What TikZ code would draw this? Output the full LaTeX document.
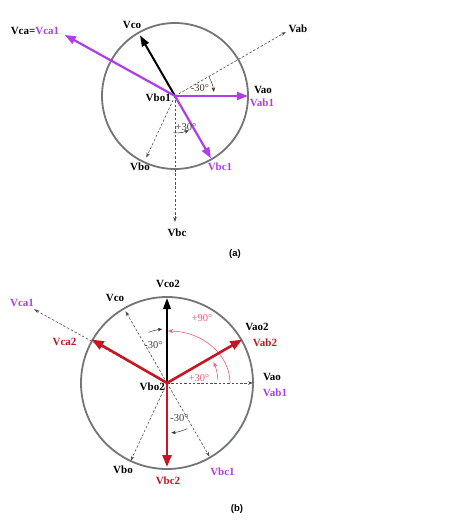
\documentclass[tikz,border=0pt]{standalone}
\usepackage{fontspec}
\setmainfont{Liberation Serif}
\newfontfamily\labsans{Liberation Sans}
\usetikzlibrary{arrows.meta}
\definecolor{vmag}{RGB}{176,60,236}
\definecolor{vred}{RGB}{200,20,35}
\definecolor{vpink}{RGB}{240,90,120}
\definecolor{vgray}{RGB}{115,118,118}
\definecolor{dgray}{RGB}{80,80,80}
\begin{document}
\begin{tikzpicture}[x=1pt,y=1pt,
  lab/.style={font=\bfseries\fontsize{11}{13}\selectfont, inner sep=0pt},
  ang/.style={font=\fontsize{10.5}{12}\selectfont, text=black!75, inner sep=0pt},
  pang/.style={font=\fontsize{10.5}{12}\selectfont, text=vpink, inner sep=0pt},
  circ/.style={draw=vgray, line width=1.8pt},
  dashvec/.style={draw=dgray, line width=0.6pt, dash pattern=on 2.5pt off 1.8pt, -{Stealth[length=5pt,width=3.5pt]}},
  vecmag/.style={draw=vmag, line width=2.2pt, -{Triangle[length=11pt,width=8pt]}},
  vecblk/.style={draw=black, line width=2pt, -{Triangle[length=11pt,width=7.5pt]}},
  vecred/.style={draw=vred, line width=2.6pt, -{Triangle[length=12pt,width=9pt]}},
  angarc/.style={draw=black!80, line width=0.5pt, -{Stealth[length=4.5pt,width=3.5pt]}},
  pinkarc/.style={draw=vpink, line width=0.6pt, -{Stealth[length=5pt,width=4pt]}},
  captext/.style={font=\labsans\bfseries\fontsize{9.5}{11}\selectfont, inner sep=0pt}
]
\fill[white] (0,0) rectangle (474,-520);
\useasboundingbox (0,0) rectangle (474,-520);

% ---------------- (a) ----------------
\begin{scope}[shift={(175,-96)}]
  \coordinate (O1) at (0,0);
  \coordinate (A-Vab) at (30:128);
  \coordinate (A-Vbc) at (-90:126);
  \coordinate (A-Vbo) at (245:68);
  \coordinate (A-Vco) at (120:70);
  \coordinate (A-Vca1) at (151:126);
  \coordinate (A-Vab1) at (0:73);
  \coordinate (A-Vbc1) at (-60:72);
  \draw[dashvec] (O1) -- (A-Vab);
  \draw[dashvec] (O1) -- (A-Vbc);
  \draw[dashvec] (O1) -- (A-Vbo);
  \draw[circ] (O1) circle (73);
  \draw[vecblk] (O1) -- (A-Vco);
  \draw[vecmag] (O1) -- (A-Vca1);
  \draw[vecmag] (O1) -- (A-Vab1);
  \draw[vecmag] (O1) -- (A-Vbc1);
  \draw[angarc] (29:39) arc[start angle=29, end angle=6, radius=39];
  \draw[angarc] (-93:37) arc[start angle=-93, end angle=-68, radius=37];
  \node[lab] (a-vca) at (-140,65) {Vca=\textcolor{vmag}{Vca1}};
  \node[lab] (a-vco) at (-43,71) {Vco};
  \node[lab] (a-vab) at (123,67) {Vab};
  \node[lab] (a-vao) at (88,6) {Vao};
  \node[lab,text=vmag] (a-vab1) at (87,-7) {Vab1};
  \node[lab,anchor=east] (a-vbo1) at (-4,-2) {Vbo1};
  \node[lab] (a-vbo) at (-35,-71) {Vbo};
  \node[lab,text=vmag] (a-vbc1) at (45,-71) {Vbc1};
  \node[lab] (a-vbc) at (2,-137) {Vbc};
  \node[ang] (a-m30) at (25,8) {-30°};
  \node[ang] (a-p30) at (11,-31) {+30°};
\end{scope}
\node[captext] (capa) at (235,-254) {(a)};

% ---------------- (b) ----------------
\begin{scope}[shift={(167,-383)}]
  \coordinate (O2) at (0,0);
  \coordinate (B-Vao) at (0:86);
  \coordinate (B-Vco) at (120:83);
  \coordinate (B-Vca1) at (151:152);
  \coordinate (B-Vbo) at (245:86);
  \coordinate (B-Vbc1) at (-60:85);
  \coordinate (B-Vco2) at (90:85);
  \coordinate (B-Vab2) at (30:87);
  \coordinate (B-Vca2) at (150:87);
  \coordinate (B-Vbc2) at (-90:84);
  \draw[dashvec] (O2) -- (B-Vao);
  \draw[dashvec] (O2) -- (B-Vco);
  \draw[dashvec] (O2) -- (B-Vca1);
  \draw[dashvec] (O2) -- (B-Vbo);
  \draw[dashvec] (O2) -- (B-Vbc1);
  \draw[circ] (O2) circle (86);
  \draw[pinkarc] (63,0) arc[start angle=0, end angle=89, x radius=63, y radius=52];
  \draw[pinkarc] (3:51) arc[start angle=3, end angle=24, radius=51];
  \draw[angarc] (110:54) arc[start angle=110, end angle=95, radius=54];
  \draw[angarc] (-66:50) arc[start angle=-66, end angle=-85, radius=50];
  \draw[vecblk] (O2) -- (B-Vco2);
  \draw[vecred] (O2) -- (B-Vab2);
  \draw[vecred] (O2) -- (B-Vca2);
  \draw[vecred] (O2) -- (B-Vbc2);
  \node[lab] (b-vco2) at (1,99) {Vco2};
  \node[lab] (b-vco) at (-52,85) {Vco};
  \node[lab,text=vmag] (b-vca1) at (-145,80) {Vca1};
  \node[lab,text=vred] (b-vca2) at (-102.5,41) {Vca2};
  \node[lab,anchor=east] (b-vbo2) at (-2,-4) {Vbo2};
  \node[lab] (b-vao2) at (90,56) {Vao2};
  \node[lab,text=vred] (b-vab2) at (98,40) {Vab2};
  \node[lab] (b-vao) at (105,6) {Vao};
  \node[lab,text=vmag] (b-vab1) at (108,-10) {Vab1};
  \node[lab] (b-vbo) at (-44,-87) {Vbo};
  \node[lab,text=vred] (b-vbc2) at (1,-98) {Vbc2};
  \node[lab,text=vmag] (b-vbc1) at (55.5,-89) {Vbc1};
  \node[ang] (b-m30u) at (-13.5,38) {-30°};
  \node[pang] (b-p90) at (35,65) {+90°};
  \node[pang] (b-p30) at (32,5) {+30°};
  \node[ang] (b-m30l) at (12.5,-35) {-30°};
\end{scope}
\node[captext] (capb) at (237,-509) {(b)};
\end{tikzpicture}
\end{document}
